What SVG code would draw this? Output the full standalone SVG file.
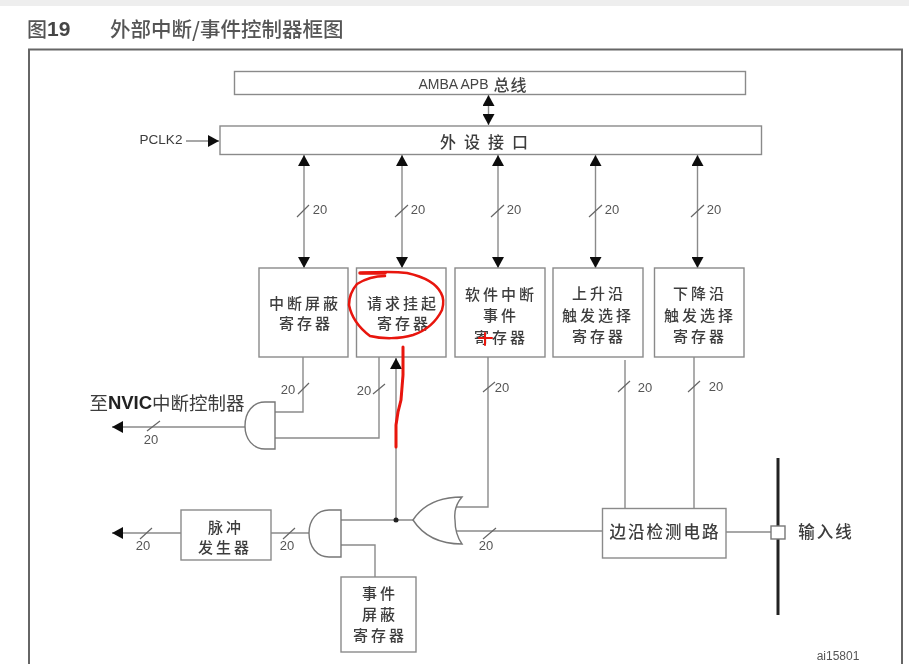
<svg xmlns="http://www.w3.org/2000/svg" width="909" height="664" viewBox="0 0 909 664">
<style>
text{font-family:"Noto Sans CJK SC","Liberation Sans",sans-serif;fill:#3c3c3c;text-anchor:middle;dominant-baseline:central}
.box{fill:#fff;stroke:#8a8a8a;stroke-width:1.4}
.w{fill:none;stroke:#8a8a8a;stroke-width:1.4}
.g{fill:#fff;stroke:#777;stroke-width:1.4}
.s{fill:none;stroke:#666;stroke-width:1.2}
.n{font-family:"Liberation Sans",sans-serif;font-size:13px;fill:#555}
.c{font-size:15px;letter-spacing:3px;font-weight:500}
.r{fill:none;stroke:#e8120c;stroke-linecap:round;stroke-linejoin:round}
</style>
<defs>
<filter id="soft" x="0" y="0" width="100%" height="100%"><feGaussianBlur stdDeviation="0.45"/></filter>
<marker id="ah" markerUnits="userSpaceOnUse" markerWidth="12" markerHeight="12" refX="11" refY="6" orient="auto-start-reverse"><path d="M0 0L11 6L0 12Z" fill="#111"/></marker>
</defs>
<rect width="909" height="664" fill="#fff"/>
<g filter="url(#soft)">
<rect id="topstrip" width="909" height="6" fill="#eee"/>
<g id="title">
<text x="27" y="28" font-size="20" font-weight="500" style="text-anchor:start;fill:#555">图<tspan style="font-family:'Liberation Sans',sans-serif;font-weight:bold;fill:#444" font-size="21">19</tspan></text>
<text x="110" y="28" font-size="20.500" font-weight="500" style="text-anchor:start;fill:#555">外部中断/事件控制器框图</text>
</g>
<rect id="frame" x="29" y="49.500" width="873" height="640" fill="none" stroke="#666" stroke-width="2"/>

<g id="connectors">
<path class="w" d="M488.500 95V125" marker-start="url(#ah)" marker-end="url(#ah)"/>
<path class="w" d="M186 141H219" marker-end="url(#ah)"/>
<path class="w" d="M304 155V268" marker-start="url(#ah)" marker-end="url(#ah)"/>
<path class="w" d="M402 155V268" marker-start="url(#ah)" marker-end="url(#ah)"/>
<path class="w" d="M498 155V268" marker-start="url(#ah)" marker-end="url(#ah)"/>
<path class="w" d="M595.500 155V268" marker-start="url(#ah)" marker-end="url(#ah)"/>
<path class="w" d="M697.500 155V268" marker-start="url(#ah)" marker-end="url(#ah)"/>
<path class="w" d="M303 357V412H275"/>
<path class="w" d="M379 357V438H275"/>
<path class="w" d="M245 427H112" marker-end="url(#ah)"/>
<path class="w" d="M396 519V358" marker-end="url(#ah)"/>
<path class="w" d="M488 357V507H456"/>
<path class="w" d="M625 360V508"/>
<path class="w" d="M694 357V508"/>
<path class="w" d="M341 520H413"/>
<path class="w" d="M456 531H602"/>
<path class="w" d="M341 545H375V577"/>
<path class="w" d="M309 533H271"/>
<path class="w" d="M181 533H112" marker-end="url(#ah)"/>
<path class="w" d="M726 532H771"/>
<circle cx="396" cy="520" r="2.500" fill="#222"/>
<path class="s" d="M297 217L309 205M395 217L408 205M491 217L504 205M589 217L602 205M691 217L704 205M298 394L309 383M373 394L385 384M483 392L495 382M618 392L630 381M688 392L700 381M147 431L160 421M140 539L152 528M283 539L295 528M483 539L496 528"/>
<text class="n" x="320" y="209.500">20</text>
<text class="n" x="418" y="209.500">20</text>
<text class="n" x="514" y="209.500">20</text>
<text class="n" x="612" y="209.500">20</text>
<text class="n" x="714" y="209.500">20</text>
<text class="n" x="288" y="389.500">20</text>
<text class="n" x="364" y="390.500">20</text>
<text class="n" x="502" y="387.500">20</text>
<text class="n" x="645" y="387.500">20</text>
<text class="n" x="716" y="386.500">20</text>
<text class="n" x="151" y="439.500">20</text>
<text class="n" x="143" y="545.500">20</text>
<text class="n" x="287" y="545.500">20</text>
<text class="n" x="486" y="545.500">20</text>
</g>

<g id="amba"><rect class="box" x="234.500" y="71.500" width="511" height="23"/>
<text x="473" y="84" font-size="14" style="fill:#444"><tspan style="font-family:'Liberation Sans',sans-serif">AMBA APB </tspan><tspan font-size="16" dx="1" letter-spacing="1" font-weight="500">总线</tspan></text></g>
<g id="periph"><rect class="box" x="220" y="126" width="541.500" height="28.500"/>
<text x="488" y="141" font-size="16" font-weight="500" letter-spacing="8">外设接口</text></g>
<g id="pclk"><text x="161" y="139" font-size="13.500" style="font-family:'Liberation Sans',sans-serif">PCLK2</text></g>
<g id="mask"><rect class="box" x="259" y="268" width="89" height="89"/>
<text class="c" x="305" y="302">中断屏蔽</text><text class="c" x="306" y="322">寄存器</text></g>
<g id="pending"><rect class="box" x="356.500" y="268" width="89.500" height="89"/>
<text class="c" x="403" y="302">请求挂起</text><text class="c" x="404" y="322">寄存器</text></g>
<g id="software"><rect class="box" x="455" y="268" width="90" height="89"/>
<text class="c" x="501" y="293">软件中断</text><text class="c" x="501" y="314">事件</text><text class="c" x="501" y="336">寄存器</text></g>
<g id="rising"><rect class="box" x="553" y="268" width="90" height="89"/>
<text class="c" x="599" y="292">上升沿</text><text class="c" x="598" y="314">触发选择</text><text class="c" x="599" y="335">寄存器</text></g>
<g id="falling"><rect class="box" x="654.500" y="268" width="89.500" height="89"/>
<text class="c" x="700" y="292">下降沿</text><text class="c" x="700" y="314">触发选择</text><text class="c" x="700" y="335">寄存器</text></g>
<g id="nvic"><text x="167" y="402" font-size="18.500">至<tspan style="font-family:'Liberation Sans',sans-serif;font-weight:bold;fill:#222">NVIC</tspan>中断控制器</text></g>
<g id="and1"><path class="g" d="M275 402V449H265C253 449 245 439 245 426C245 412 253 402 265 402Z"/></g>
<g id="or1"><path class="g" d="M462 497C455 505 454 512 455 520C455 530 457 537 462 544C442 544 424 537 413 520C424 503 442 497 462 497Z"/></g>
<g id="and2"><path class="g" d="M341 510V557H329C317 557 309 547 309 533C309 520 317 510 329 510Z"/></g>
<g id="pulse"><rect class="box" x="181" y="510" width="90" height="50"/>
<text class="c" x="226" y="526">脉冲</text><text class="c" x="225" y="546">发生器</text></g>
<g id="eventmask"><rect class="box" x="341" y="577" width="75" height="75"/>
<text class="c" x="380" y="592">事件</text><text class="c" x="380" y="613">屏蔽</text><text class="c" x="380" y="634">寄存器</text></g>
<g id="edge"><rect class="box" x="602.500" y="508.500" width="123.500" height="49.500"/>
<text x="665" y="531" font-size="16.500" font-weight="500" letter-spacing="2">边沿检测电路</text></g>
<g id="input"><path d="M778 458V615" stroke="#222" stroke-width="3" fill="none"/>
<rect x="771" y="526" width="14" height="13" fill="#fff" stroke="#777" stroke-width="1.400"/>
<text x="826" y="531" font-size="16.500" font-weight="500" letter-spacing="2">输入线</text></g>
<text id="code" x="838" y="656" font-size="12" style="font-family:'Liberation Sans',sans-serif;fill:#555">ai15801</text>

<g id="annotations">
<path class="r" stroke-width="2.500" d="M385 276C375 276 365 279 357 284C351 291 349 297 349 305C351 315 358 327 370 336C382 339 400 339 413 335C425 331 436 322 442 310C444 303 444 298 441 293C436 283 425 277 407 273C392 271 375 272 362 273"/>
<path class="r" stroke-width="3.500" d="M360 273H385"/>
<path class="r" stroke-width="2" d="M479 338H492M485 333V345"/>
<path class="r" stroke-width="3" d="M403 347L403 375L401 400L398 412L396 425L396 447"/>
</g>
</g>
</svg>
